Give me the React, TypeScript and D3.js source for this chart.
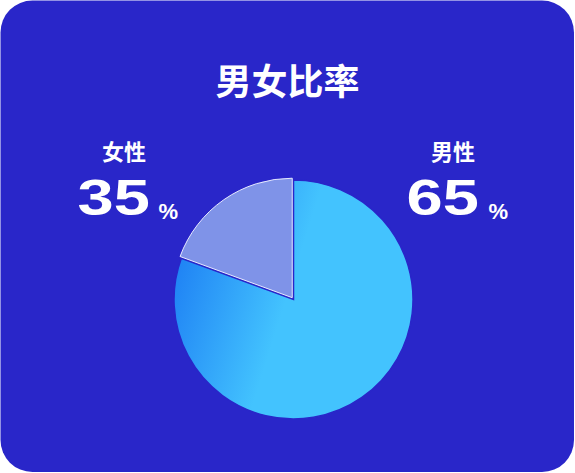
import * as d3 from "d3";
import React from "react";

// labels shown on the card
const categories = ["男性", "女性"];
const labelPercents = [65, 35];
// share of the circle each slice takes in the drawing
const sliceShares = [80.6, 19.4];
const title = "男女比率";

const width = 575;
const height = 473;
const cjkFont = "'Noto Sans CJK SC', 'Noto Sans CJK JP', sans-serif";
const numFont = "'Liberation Sans', Arial, sans-serif";

export default function App() {
  const svgRef = React.useRef<SVGSVGElement>(null);

  React.useEffect(() => {
    const svg = d3.select(svgRef.current);
    svg.selectAll("*").remove();

    const bg = "#2926c9";
    const cx = 293.5;
    const cy = 299.5;
    const radius = 119.5;

    // gradient coords are relative to the pie centre
    const defs = svg.append("defs");
    const grad = defs
      .append("linearGradient")
      .attr("id", "maleGrad")
      .attr("gradientUnits", "userSpaceOnUse")
      .attr("x1", -120)
      .attr("y1", -40)
      .attr("x2", -6)
      .attr("y2", -4);
    grad.append("stop").attr("offset", "0%").attr("stop-color", "#1e80f4");
    grad.append("stop").attr("offset", "100%").attr("stop-color", "#43c3fe");

    // card
    svg
      .append("rect")
      .attr("x", 0.5)
      .attr("y", 0.5)
      .attr("width", 573.5)
      .attr("height", 471.5)
      .attr("rx", 32)
      .attr("fill", bg);

    svg
      .append("text")
      .attr("x", width / 2)
      .attr("y", 95)
      .attr("text-anchor", "middle")
      .attr("font-family", cjkFont)
      .attr("font-weight", 700)
      .attr("font-size", 36)
      .attr("fill", "#fff")
      .text(title);

    const pie = d3
      .pie<number>()
      .sort(null)
      .value((d) => d);
    const arcs = pie(sliceShares);
    const arc = d3
      .arc<d3.PieArcDatum<number>>()
      .innerRadius(0)
      .outerRadius(radius);

    // male slice
    svg
      .append("path")
      .attr("transform", `translate(${cx},${cy})`)
      .attr("d", arc(arcs[0]) ?? "")
      .attr("fill", "url(#maleGrad)")
      .attr("stroke", bg)
      .attr("stroke-width", 1.5);

    // female slice, pulled out a little
    const mid = (arcs[1].startAngle + arcs[1].endAngle) / 2;
    const off = 2.2;
    svg
      .append("path")
      .attr(
        "transform",
        `translate(${cx + Math.sin(mid) * off},${cy - Math.cos(mid) * off})`
      )
      .attr("d", arc(arcs[1]) ?? "")
      .attr("fill", "#7f93e8")
      .attr("stroke", "#e6e9ff")
      .attr("stroke-width", 1);

    // side labels
    const labelPos = [
      { cx: 453, numX: 406.5, pctX: 488.5 },
      { cx: 124, numX: 77.5, pctX: 158.5 },
    ];
    categories.forEach((name, i) => {
      const p = labelPos[i];
      svg
        .append("text")
        .attr("x", p.cx)
        .attr("y", 160)
        .attr("text-anchor", "middle")
        .attr("font-family", cjkFont)
        .attr("font-weight", 700)
        .attr("font-size", 22)
        .attr("fill", "#fff")
        .text(name);
      // wide numerals: bold sans stretched sideways
      svg
        .append("text")
        .attr("transform", `translate(${p.numX},214.5) scale(1.3,1)`)
        .attr("font-family", numFont)
        .attr("font-weight", 700)
        .attr("font-size", 50)
        .attr("fill", "#fff")
        .text(String(labelPercents[i]));
      svg
        .append("text")
        .attr("x", p.pctX)
        .attr("y", 219.3)
        .attr("font-family", numFont)
        .attr("font-weight", 700)
        .attr("font-size", 22)
        .attr("fill", "#fff")
        .text("%");
    });
  }, []);

  return (
    <svg
      ref={svgRef}
      width={width}
      height={height}
      viewBox={`0 0 ${width} ${height}`}
      style={{ position: "absolute", left: 0, top: 0, background: "#fff" }}
    ></svg>
  );
}
